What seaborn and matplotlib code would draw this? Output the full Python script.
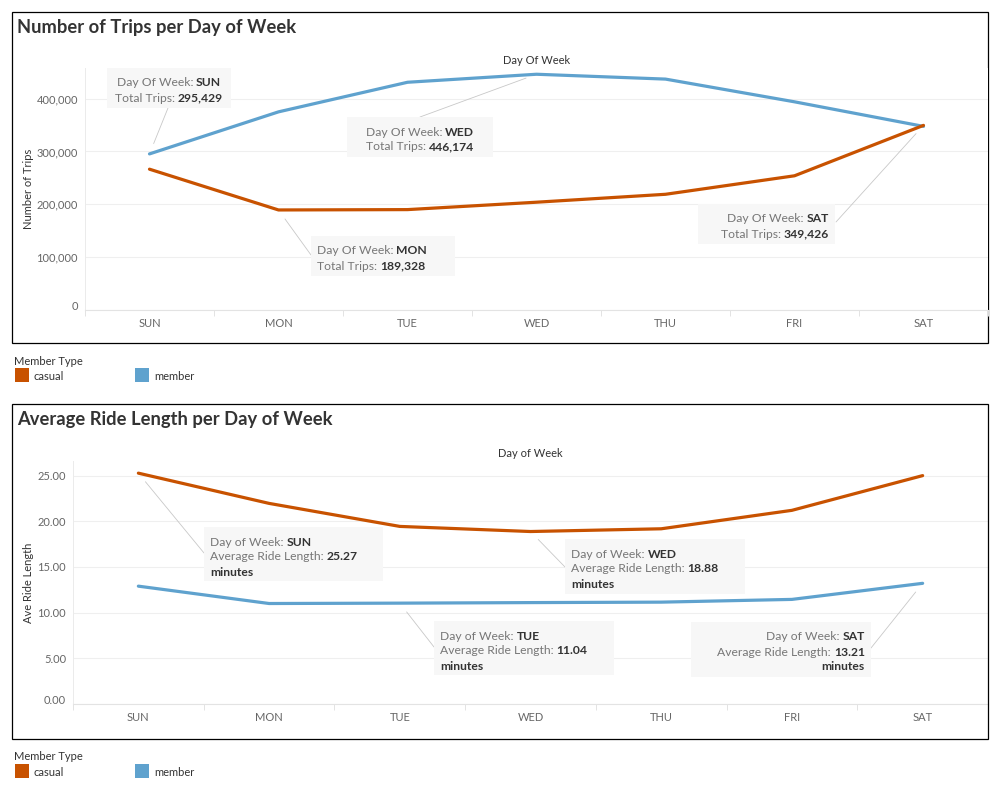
import numpy as np
import pandas as pd
import matplotlib
matplotlib.use("Agg")
import matplotlib.pyplot as plt
import seaborn as sns
from matplotlib.patches import Rectangle
from matplotlib.transforms import ScaledTranslation

# ---------------- data ----------------
days = ["SUN", "MON", "TUE", "WED", "THU", "FRI", "SAT"]
member_types = ["casual", "member"]
trips_casual = [266500, 189328, 190000, 204000, 219000, 254000, 349426]
trips_member = [295429, 375000, 431000, 446174, 437000, 394000, 347500]
ride_casual = [25.27, 21.96, 19.44, 18.88, 19.18, 21.20, 25.00]
ride_member = [12.90, 11.00, 11.04, 11.10, 11.15, 11.45, 13.21]
trip_ticks = [0, 100000, 200000, 300000, 400000]
ride_ticks = [0, 5, 10, 15, 20, 25]
colors = {"casual": "#C85200", "member": "#5FA2CE"}

W, H = 999, 799
sns.set_theme(style="white")
plt.rcParams["font.family"] = ["Lato", "DejaVu Sans"]

fig = plt.figure(figsize=(W / 100, H / 100), dpi=100)
fig.patch.set_facecolor("white")


def fx(x):
    return x / W


def fy(y):
    return 1 - y / H


def add_axes(l, t, r, b):
    return fig.add_axes([fx(l), fy(b), (r - l) / W, (b - t) / H])


ax1 = add_axes(85, 68, 988, 310)
ax2 = add_axes(73, 461, 988, 704)

df1 = pd.DataFrame({
    "day": days * 2,
    "member_type": ["casual"] * 7 + ["member"] * 7,
    "value": trips_casual + trips_member,
})
df2 = pd.DataFrame({
    "day": days * 2,
    "member_type": ["casual"] * 7 + ["member"] * 7,
    "value": ride_casual + ride_member,
})

for ax, df in [(ax1, df1), (ax2, df2)]:
    sns.lineplot(data=df, x="day", y="value", hue="member_type",
                 hue_order=["member", "casual"], palette=colors, sort=False,
                 linewidth=2.3, legend=False, ax=ax)


def style(ax, yticks, labels, ylim, xlabel, ylabel, ylab_x):
    ax.set_facecolor("white")
    ax.set_xlim(-0.5, 6.5)
    ax.set_ylim(*ylim)
    ax.set_yticks(yticks)
    ax.set_yticklabels(labels)
    ax.set_xticks(range(7))
    ax.set_xticklabels(days)
    ax.set_xticks(np.arange(-0.5, 7.0, 1.0), minor=True)
    ax.tick_params(axis="x", which="major", length=0, pad=5.5, labelsize=8,
                   labelcolor="#666666")
    ax.tick_params(axis="x", which="minor", length=4, width=0.7,
                   color="#E3E3E3", bottom=True)
    ax.tick_params(axis="y", length=0, pad=5, labelsize=8, labelcolor="#666666")
    ax.grid(axis="y", color="#EFEFEF", lw=0.8)
    ax.grid(axis="x", visible=False)
    ax.set_axisbelow(True)
    ax.xaxis.set_label_position("top")
    ax.set_xlabel(xlabel, fontsize=8, color="#333333", labelpad=3)
    ax.set_ylabel(ylabel, fontsize=8, color="#333333")
    ax.yaxis.set_label_coords(ylab_x, 0.5)
    for s in ["top", "right"]:
        ax.spines[s].set_visible(False)
    ax.spines["left"].set_color("#EBEBEB")
    ax.spines["left"].set_linewidth(0.7)
    ax.spines["bottom"].set_color("#E3E3E3")
    ax.spines["bottom"].set_linewidth(0.8)


style(ax1, trip_ticks, [f"{v:,}" for v in trip_ticks], (0, 458000),
      "Day Of Week", "Number of Trips", -0.0565)
style(ax2, ride_ticks, [f"{v:.2f}" for v in ride_ticks], (0, 26.6),
      "Day of Week", "Ave Ride Length", -0.0425)

# lift the "0" labels a little, as in the reference
for ax in (ax1, ax2):
    lbl = ax.get_yticklabels()[0]
    lbl.set_transform(lbl.get_transform() + ScaledTranslation(0, 5 / 100, fig.dpi_scale_trans))

# ---------------- frames and titles ----------------
fig.patches.append(Rectangle((fx(12), fy(343)), 976 / W, 331 / H, transform=fig.transFigure,
                             fill=False, edgecolor="black", lw=0.9, zorder=-1))
fig.patches.append(Rectangle((fx(12), fy(739)), 976 / W, 335 / H, transform=fig.transFigure,
                             fill=False, edgecolor="black", lw=0.9, zorder=5))
fig.text(fx(17), fy(27.5), "Number of Trips per Day of Week", fontsize=13.2,
         fontweight="bold", color="#333333", va="center")
fig.text(fx(17), fy(420), "Average Ride Length per Day of Week", fontsize=13.2,
         fontweight="bold", color="#333333", va="center")

# ---------------- legends ----------------
def legend(ytitle, yswatch):
    fig.text(fx(14), fy(ytitle), "Member Type", fontsize=8, color="#333333", va="center")
    for name, x in zip(member_types, [15, 135]):
        fig.patches.append(Rectangle((fx(x), fy(yswatch + 14)), 14 / W, 14 / H,
                                     transform=fig.transFigure, facecolor=colors[name],
                                     edgecolor="none"))
        fig.text(fx(x + 19), fy(yswatch + 8), name, fontsize=8, color="#333333", va="center")


legend(361, 368)
legend(757, 764)

# ---------------- annotations ----------------
renderer = fig.canvas.get_renderer()
ANN_FS = 8.7
GRAY = "#777777"
DARK = "#333333"


def tw(s, weight):
    t = fig.text(0, 0, s, fontsize=ANN_FS, fontweight=weight)
    w = t.get_window_extent(renderer).width
    t.remove()
    return w


def rich(x, y, parts, align):
    widths = [tw(p[0], p[1]) for p in parts]
    gap = ANN_FS * 100 / 72 * 0.24
    total = sum(widths) + gap * (len(parts) - 1)
    if align == "left":
        cur = x
    elif align == "right":
        cur = x - total
    else:
        cur = x - total / 2
    for (s, wt, c), w in zip(parts, widths):
        fig.text(fx(cur), fy(y), s, fontsize=ANN_FS, fontweight=wt, color=c,
                 ha="left", va="center")
        cur += w + gap


def callout(ax, box, tx, ty0, align, lines, leader, point):
    l, t, r, b = box
    fig.patches.append(Rectangle((fx(l), fy(b)), (r - l) / W, (b - t) / H,
                                 transform=fig.transFigure, facecolor="#F7F7F7",
                                 edgecolor="none", zorder=2))
    for i, parts in enumerate(lines):
        rich(tx, ty0 + 15 * i, parts, align)
    ax.annotate("", xy=point, xycoords="data", xytext=(leader[0], H - leader[1]),
                textcoords="figure pixels",
                arrowprops=dict(arrowstyle="-", color="#C8C8C8", lw=0.6,
                                shrinkA=0, shrinkB=8))


def trip_lines(d, v):
    return [[("Day Of Week:", "normal", GRAY), (days[d], "bold", DARK)],
            [("Total Trips:", "normal", GRAY), (f"{v:,}", "bold", DARK)]]


def ride_lines(d, v):
    return [[("Day of Week:", "normal", GRAY), (days[d], "bold", DARK)],
            [("Average Ride Length:", "normal", GRAY), (f"{v:.2f}", "bold", DARK)],
            [("minutes", "bold", DARK)]]


callout(ax1, (107, 68, 231, 108), 169, 83, "center", trip_lines(0, trips_member[0]),
        (168, 108), (0, trips_member[0]))
callout(ax1, (347, 117, 493, 157), 420, 132, "center", trip_lines(3, trips_member[3]),
        (420, 117), (3, trips_member[3]))
callout(ax1, (311, 236, 455, 276), 317, 251, "left", trip_lines(1, trips_casual[1]),
        (311, 255), (1, trips_casual[1]))
callout(ax1, (698, 204, 835, 244), 829, 219, "right", trip_lines(6, trips_casual[6]),
        (836, 222), (6, trips_casual[6]))

callout(ax2, (204, 527, 383, 581), 210, 542, "left", ride_lines(0, ride_casual[0]),
        (204, 553), (0, ride_casual[0]))
callout(ax2, (565, 539, 745, 594), 571, 554, "left", ride_lines(3, ride_casual[3]),
        (565, 567), (3, ride_casual[3]))
callout(ax2, (434, 621, 614, 675), 440, 636, "left", ride_lines(2, ride_member[2]),
        (434, 647), (2, ride_member[2]))
callout(ax2, (691, 622, 871, 677), 865, 637, "right", ride_lines(6, ride_member[6]),
        (871, 648), (6, ride_member[6]))

fig.savefig("out.png", dpi=100)
